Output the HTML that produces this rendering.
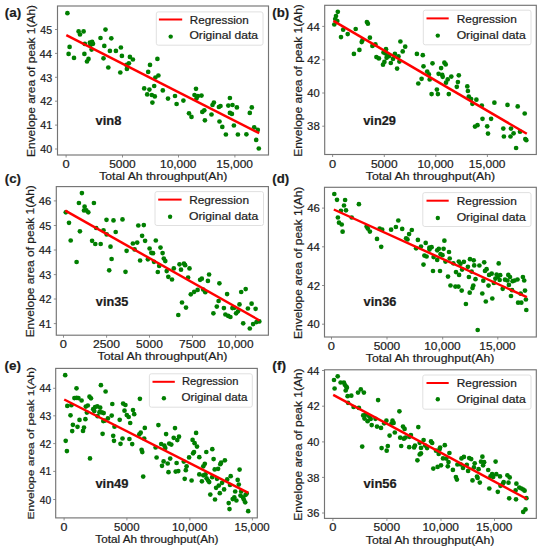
<!DOCTYPE html>
<html><head><meta charset="utf-8"><style>
html,body{margin:0;padding:0;background:#fff;overflow:hidden;}
svg{display:block;}
text{font-family:"Liberation Sans", sans-serif;stroke:#1c1c1c;stroke-width:0.2px;paint-order:stroke;}
</style></head><body>
<svg width="541" height="550" viewBox="0 0 541 550">
<rect width="541" height="550" fill="#fff"/>
<g fill="#007f00"><circle cx="67.4" cy="13.2" r="2.35"/><circle cx="78.6" cy="31.4" r="2.35"/><circle cx="83.6" cy="31.4" r="2.35"/><circle cx="80.0" cy="34.5" r="2.35"/><circle cx="105.5" cy="29.6" r="2.35"/><circle cx="100.5" cy="38.0" r="2.35"/><circle cx="111.3" cy="38.3" r="2.35"/><circle cx="69.6" cy="46.9" r="2.35"/><circle cx="68.6" cy="53.9" r="2.35"/><circle cx="74.0" cy="57.9" r="2.35"/><circle cx="84.4" cy="53.9" r="2.35"/><circle cx="84.8" cy="43.9" r="2.35"/><circle cx="89.9" cy="42.7" r="2.35"/><circle cx="92.1" cy="41.8" r="2.35"/><circle cx="93.0" cy="43.8" r="2.35"/><circle cx="90.5" cy="45.0" r="2.35"/><circle cx="91.6" cy="49.6" r="2.35"/><circle cx="104.3" cy="45.9" r="2.35"/><circle cx="109.9" cy="50.9" r="2.35"/><circle cx="115.9" cy="50.9" r="2.35"/><circle cx="120.9" cy="47.5" r="2.35"/><circle cx="103.5" cy="58.3" r="2.35"/><circle cx="88.5" cy="58.9" r="2.35"/><circle cx="87.0" cy="61.5" r="2.35"/><circle cx="108.3" cy="67.5" r="2.35"/><circle cx="121.9" cy="55.9" r="2.35"/><circle cx="129.9" cy="56.9" r="2.35"/><circle cx="132.9" cy="59.5" r="2.35"/><circle cx="128.9" cy="63.3" r="2.35"/><circle cx="126.5" cy="64.9" r="2.35"/><circle cx="126.9" cy="68.9" r="2.35"/><circle cx="120.3" cy="72.5" r="2.35"/><circle cx="148.2" cy="71.9" r="2.35"/><circle cx="150.0" cy="64.9" r="2.35"/><circle cx="157.4" cy="58.9" r="2.35"/><circle cx="158.4" cy="75.5" r="2.35"/><circle cx="155.4" cy="77.5" r="2.35"/><circle cx="144.2" cy="88.4" r="2.35"/><circle cx="149.4" cy="89.6" r="2.35"/><circle cx="154.2" cy="86.0" r="2.35"/><circle cx="147.2" cy="94.4" r="2.35"/><circle cx="151.8" cy="95.0" r="2.35"/><circle cx="154.8" cy="96.4" r="2.35"/><circle cx="152.4" cy="102.6" r="2.35"/><circle cx="162.8" cy="90.4" r="2.35"/><circle cx="168.0" cy="98.6" r="2.35"/><circle cx="175.0" cy="96.0" r="2.35"/><circle cx="176.6" cy="104.0" r="2.35"/><circle cx="183.4" cy="100.6" r="2.35"/><circle cx="196.0" cy="88.8" r="2.35"/><circle cx="194.5" cy="95.0" r="2.35"/><circle cx="197.9" cy="96.0" r="2.35"/><circle cx="201.5" cy="95.6" r="2.35"/><circle cx="196.5" cy="98.4" r="2.35"/><circle cx="189.0" cy="113.3" r="2.35"/><circle cx="191.5" cy="116.9" r="2.35"/><circle cx="202.3" cy="111.9" r="2.35"/><circle cx="204.3" cy="110.3" r="2.35"/><circle cx="204.9" cy="120.3" r="2.35"/><circle cx="211.5" cy="114.5" r="2.35"/><circle cx="212.5" cy="105.0" r="2.35"/><circle cx="213.9" cy="102.6" r="2.35"/><circle cx="218.9" cy="107.0" r="2.35"/><circle cx="220.5" cy="106.0" r="2.35"/><circle cx="219.5" cy="121.5" r="2.35"/><circle cx="222.3" cy="126.9" r="2.35"/><circle cx="225.9" cy="134.5" r="2.35"/><circle cx="229.9" cy="98.0" r="2.35"/><circle cx="228.3" cy="105.6" r="2.35"/><circle cx="232.5" cy="105.0" r="2.35"/><circle cx="236.9" cy="107.4" r="2.35"/><circle cx="229.9" cy="112.9" r="2.35"/><circle cx="231.9" cy="113.9" r="2.35"/><circle cx="233.9" cy="125.5" r="2.35"/><circle cx="237.9" cy="134.5" r="2.35"/><circle cx="246.4" cy="134.3" r="2.35"/><circle cx="251.8" cy="107.4" r="2.35"/><circle cx="249.8" cy="112.9" r="2.35"/><circle cx="254.2" cy="127.3" r="2.35"/><circle cx="257.8" cy="129.9" r="2.35"/><circle cx="256.2" cy="139.9" r="2.35"/><circle cx="258.8" cy="148.5" r="2.35"/></g>
<line x1="66.3" y1="35.1" x2="259.2" y2="133.2" stroke="#ff0000" stroke-width="2.45" stroke-linecap="butt"/>
<rect x="57.5" y="6" width="211.0" height="149" fill="none" stroke="#747474" stroke-width="1.15"/>
<line x1="66.1" y1="155" x2="66.1" y2="157.5" stroke="#747474" stroke-width="0.8"/>
<text x="62.48" y="167.70" font-size="10.5" font-weight="normal" textLength="7.18" lengthAdjust="spacingAndGlyphs" fill="#1c1c1c">0</text>
<line x1="122.5" y1="155" x2="122.5" y2="157.5" stroke="#747474" stroke-width="0.8"/>
<text x="109.17" y="167.70" font-size="10.5" font-weight="normal" textLength="26.59" lengthAdjust="spacingAndGlyphs" fill="#1c1c1c">5000</text>
<line x1="178.5" y1="155" x2="178.5" y2="157.5" stroke="#747474" stroke-width="0.8"/>
<text x="160.11" y="167.70" font-size="10.5" font-weight="normal" textLength="36.29" lengthAdjust="spacingAndGlyphs" fill="#1c1c1c">10,000</text>
<line x1="234.9" y1="155" x2="234.9" y2="157.5" stroke="#747474" stroke-width="0.8"/>
<text x="216.35" y="167.70" font-size="10.5" font-weight="normal" textLength="36.60" lengthAdjust="spacingAndGlyphs" fill="#1c1c1c">15,000</text>
<line x1="55.0" y1="29.5" x2="57.5" y2="29.5" stroke="#747474" stroke-width="0.8"/>
<text x="40.39" y="33.70" font-size="10.5" font-weight="normal" textLength="11.76" lengthAdjust="spacingAndGlyphs" fill="#1c1c1c">45</text>
<line x1="55.0" y1="53.4" x2="57.5" y2="53.4" stroke="#747474" stroke-width="0.8"/>
<text x="39.47" y="57.60" font-size="10.5" font-weight="normal" textLength="12.59" lengthAdjust="spacingAndGlyphs" fill="#1c1c1c">44</text>
<line x1="55.0" y1="77.3" x2="57.5" y2="77.3" stroke="#747474" stroke-width="0.8"/>
<text x="40.18" y="81.50" font-size="10.5" font-weight="normal" textLength="11.97" lengthAdjust="spacingAndGlyphs" fill="#1c1c1c">43</text>
<line x1="55.0" y1="101.2" x2="57.5" y2="101.2" stroke="#747474" stroke-width="0.8"/>
<text x="40.18" y="105.40" font-size="10.5" font-weight="normal" textLength="12.09" lengthAdjust="spacingAndGlyphs" fill="#1c1c1c">42</text>
<line x1="55.0" y1="125.1" x2="57.5" y2="125.1" stroke="#747474" stroke-width="0.8"/>
<text x="40.18" y="129.30" font-size="10.5" font-weight="normal" textLength="12.03" lengthAdjust="spacingAndGlyphs" fill="#1c1c1c">41</text>
<line x1="55.0" y1="149.0" x2="57.5" y2="149.0" stroke="#747474" stroke-width="0.8"/>
<text x="40.19" y="153.20" font-size="10.5" font-weight="normal" textLength="11.91" lengthAdjust="spacingAndGlyphs" fill="#1c1c1c">40</text>
<text x="99.16" y="179.60" font-size="10.7" font-weight="normal" textLength="128.20" lengthAdjust="spacingAndGlyphs" fill="#1c1c1c">Total Ah throughput(Ah)</text>
<text x="-0.96" y="0" transform="translate(34.70,156.00) rotate(-90)" font-size="10.271999999999998" textLength="151.98" lengthAdjust="spacingAndGlyphs" fill="#1c1c1c">Envelope area of peak 1(Ah)</text>
<text x="4.83" y="17.00" font-size="12.75" font-weight="bold" textLength="16.41" lengthAdjust="spacingAndGlyphs" fill="#1c1c1c">(a)</text>
<text x="95.54" y="124.90" font-size="12.4" font-weight="bold" textLength="25.87" lengthAdjust="spacingAndGlyphs" fill="#1c1c1c">vin8</text>
<rect x="156.3" y="11.9" width="106.69999999999999" height="33.300000000000004" rx="2" ry="2" fill="#ffffff" fill-opacity="0.8" stroke="#dcdcdc" stroke-width="0.9"/>
<line x1="158.9" y1="19.5" x2="182.2" y2="19.5" stroke="#ff0000" stroke-width="2.0"/>
<text x="189.87" y="23.50" font-size="10.5" font-weight="normal" textLength="58.93" lengthAdjust="spacingAndGlyphs" fill="#1c1c1c">Regression</text>
<circle cx="170.7" cy="36.6" r="2.2" fill="#007f00"/>
<text x="189.46" y="39.30" font-size="10.5" font-weight="normal" textLength="68.54" lengthAdjust="spacingAndGlyphs" fill="#1c1c1c">Original data</text>
<g fill="#007f00"><circle cx="337.8" cy="11.8" r="2.35"/><circle cx="336.0" cy="16.0" r="2.35"/><circle cx="335.2" cy="19.0" r="2.35"/><circle cx="337.3" cy="21.0" r="2.35"/><circle cx="334.3" cy="24.5" r="2.35"/><circle cx="343.2" cy="29.7" r="2.35"/><circle cx="341.0" cy="37.1" r="2.35"/><circle cx="347.7" cy="34.1" r="2.35"/><circle cx="355.7" cy="29.0" r="2.35"/><circle cx="366.9" cy="22.0" r="2.35"/><circle cx="367.9" cy="23.7" r="2.35"/><circle cx="369.9" cy="37.7" r="2.35"/><circle cx="362.4" cy="40.4" r="2.35"/><circle cx="361.7" cy="42.1" r="2.35"/><circle cx="359.4" cy="49.9" r="2.35"/><circle cx="353.9" cy="53.9" r="2.35"/><circle cx="372.4" cy="45.9" r="2.35"/><circle cx="375.4" cy="44.4" r="2.35"/><circle cx="376.4" cy="57.1" r="2.35"/><circle cx="378.9" cy="58.4" r="2.35"/><circle cx="386.0" cy="49.2" r="2.35"/><circle cx="383.5" cy="52.5" r="2.35"/><circle cx="385.5" cy="53.5" r="2.35"/><circle cx="387.2" cy="56.6" r="2.35"/><circle cx="389.1" cy="56.1" r="2.35"/><circle cx="386.6" cy="57.8" r="2.35"/><circle cx="384.4" cy="61.9" r="2.35"/><circle cx="383.0" cy="64.7" r="2.35"/><circle cx="390.8" cy="63.0" r="2.35"/><circle cx="393.0" cy="58.9" r="2.35"/><circle cx="394.9" cy="53.9" r="2.35"/><circle cx="398.5" cy="56.4" r="2.35"/><circle cx="399.4" cy="61.6" r="2.35"/><circle cx="397.1" cy="68.6" r="2.35"/><circle cx="402.7" cy="51.4" r="2.35"/><circle cx="405.2" cy="46.7" r="2.35"/><circle cx="400.4" cy="41.5" r="2.35"/><circle cx="416.9" cy="53.9" r="2.35"/><circle cx="422.8" cy="55.2" r="2.35"/><circle cx="423.5" cy="66.3" r="2.35"/><circle cx="432.5" cy="63.3" r="2.35"/><circle cx="444.4" cy="62.7" r="2.35"/><circle cx="445.7" cy="64.4" r="2.35"/><circle cx="441.1" cy="68.1" r="2.35"/><circle cx="427.2" cy="71.6" r="2.35"/><circle cx="428.9" cy="74.4" r="2.35"/><circle cx="421.6" cy="78.8" r="2.35"/><circle cx="418.3" cy="83.5" r="2.35"/><circle cx="429.7" cy="79.4" r="2.35"/><circle cx="438.6" cy="73.8" r="2.35"/><circle cx="442.2" cy="74.9" r="2.35"/><circle cx="442.7" cy="76.8" r="2.35"/><circle cx="451.3" cy="76.6" r="2.35"/><circle cx="447.7" cy="79.4" r="2.35"/><circle cx="446.0" cy="82.7" r="2.35"/><circle cx="458.8" cy="75.3" r="2.35"/><circle cx="457.9" cy="82.1" r="2.35"/><circle cx="456.8" cy="86.8" r="2.35"/><circle cx="436.9" cy="89.6" r="2.35"/><circle cx="437.9" cy="94.1" r="2.35"/><circle cx="431.6" cy="94.1" r="2.35"/><circle cx="448.8" cy="94.1" r="2.35"/><circle cx="467.3" cy="86.4" r="2.35"/><circle cx="467.9" cy="91.0" r="2.35"/><circle cx="468.8" cy="96.6" r="2.35"/><circle cx="471.1" cy="99.1" r="2.35"/><circle cx="476.4" cy="99.7" r="2.35"/><circle cx="472.4" cy="103.8" r="2.35"/><circle cx="481.8" cy="105.5" r="2.35"/><circle cx="494.4" cy="102.7" r="2.35"/><circle cx="507.5" cy="104.9" r="2.35"/><circle cx="517.7" cy="106.4" r="2.35"/><circle cx="482.5" cy="118.8" r="2.35"/><circle cx="491.1" cy="118.8" r="2.35"/><circle cx="475.0" cy="126.6" r="2.35"/><circle cx="477.5" cy="125.2" r="2.35"/><circle cx="487.2" cy="126.3" r="2.35"/><circle cx="503.3" cy="128.6" r="2.35"/><circle cx="511.0" cy="128.6" r="2.35"/><circle cx="524.7" cy="113.5" r="2.35"/><circle cx="488.0" cy="133.6" r="2.35"/><circle cx="513.6" cy="133.3" r="2.35"/><circle cx="520.0" cy="131.7" r="2.35"/><circle cx="503.9" cy="136.5" r="2.35"/><circle cx="510.5" cy="136.5" r="2.35"/><circle cx="525.3" cy="139.0" r="2.35"/><circle cx="526.3" cy="140.2" r="2.35"/><circle cx="516.1" cy="148.0" r="2.35"/></g>
<line x1="333.4" y1="20.9" x2="526.8" y2="133.8" stroke="#ff0000" stroke-width="2.45" stroke-linecap="butt"/>
<rect x="324.7" y="5.3" width="211.59999999999997" height="149.2" fill="none" stroke="#747474" stroke-width="1.15"/>
<line x1="332.6" y1="154.5" x2="332.6" y2="157.0" stroke="#747474" stroke-width="0.8"/>
<text x="328.98" y="167.70" font-size="10.5" font-weight="normal" textLength="7.18" lengthAdjust="spacingAndGlyphs" fill="#1c1c1c">0</text>
<line x1="384.3" y1="154.5" x2="384.3" y2="157.0" stroke="#747474" stroke-width="0.8"/>
<text x="370.97" y="167.70" font-size="10.5" font-weight="normal" textLength="26.59" lengthAdjust="spacingAndGlyphs" fill="#1c1c1c">5000</text>
<line x1="435.8" y1="154.5" x2="435.8" y2="157.0" stroke="#747474" stroke-width="0.8"/>
<text x="417.41" y="167.70" font-size="10.5" font-weight="normal" textLength="36.29" lengthAdjust="spacingAndGlyphs" fill="#1c1c1c">10,000</text>
<line x1="487.4" y1="154.5" x2="487.4" y2="157.0" stroke="#747474" stroke-width="0.8"/>
<text x="468.85" y="167.70" font-size="10.5" font-weight="normal" textLength="36.60" lengthAdjust="spacingAndGlyphs" fill="#1c1c1c">15,000</text>
<line x1="322.2" y1="26.4" x2="324.7" y2="26.4" stroke="#747474" stroke-width="0.8"/>
<text x="307.07" y="30.60" font-size="10.5" font-weight="normal" textLength="12.70" lengthAdjust="spacingAndGlyphs" fill="#1c1c1c">44</text>
<line x1="322.2" y1="59.8" x2="324.7" y2="59.8" stroke="#747474" stroke-width="0.8"/>
<text x="307.37" y="64.00" font-size="10.5" font-weight="normal" textLength="12.62" lengthAdjust="spacingAndGlyphs" fill="#1c1c1c">42</text>
<line x1="322.2" y1="93.0" x2="324.7" y2="93.0" stroke="#747474" stroke-width="0.8"/>
<text x="307.38" y="97.20" font-size="10.5" font-weight="normal" textLength="12.44" lengthAdjust="spacingAndGlyphs" fill="#1c1c1c">40</text>
<line x1="322.2" y1="126.2" x2="324.7" y2="126.2" stroke="#747474" stroke-width="0.8"/>
<text x="307.14" y="130.40" font-size="10.5" font-weight="normal" textLength="12.74" lengthAdjust="spacingAndGlyphs" fill="#1c1c1c">38</text>
<text x="365.85" y="179.50" font-size="10.7" font-weight="normal" textLength="129.31" lengthAdjust="spacingAndGlyphs" fill="#1c1c1c">Total Ah throughput(Ah)</text>
<text x="-0.96" y="0" transform="translate(302.00,155.90) rotate(-90)" font-size="10.271999999999998" textLength="152.69" lengthAdjust="spacingAndGlyphs" fill="#1c1c1c">Envelope area of peak 1(Ah)</text>
<text x="272.34" y="17.00" font-size="12.75" font-weight="bold" textLength="16.88" lengthAdjust="spacingAndGlyphs" fill="#1c1c1c">(b)</text>
<text x="363.24" y="125.00" font-size="12.4" font-weight="bold" textLength="32.74" lengthAdjust="spacingAndGlyphs" fill="#1c1c1c">vin29</text>
<rect x="423.3" y="10.2" width="107.69999999999999" height="34.599999999999994" rx="2" ry="2" fill="#ffffff" fill-opacity="0.8" stroke="#dcdcdc" stroke-width="0.9"/>
<line x1="426.5" y1="18.4" x2="448.7" y2="18.4" stroke="#ff0000" stroke-width="2.0"/>
<text x="456.75" y="22.60" font-size="10.5" font-weight="normal" textLength="60.06" lengthAdjust="spacingAndGlyphs" fill="#1c1c1c">Regression</text>
<circle cx="437.8" cy="35.6" r="2.2" fill="#007f00"/>
<text x="456.65" y="38.50" font-size="10.5" font-weight="normal" textLength="69.05" lengthAdjust="spacingAndGlyphs" fill="#1c1c1c">Original data</text>
<g fill="#007f00"><circle cx="81.9" cy="193.1" r="2.35"/><circle cx="78.9" cy="203.0" r="2.35"/><circle cx="93.9" cy="203.0" r="2.35"/><circle cx="84.6" cy="206.7" r="2.35"/><circle cx="84.0" cy="210.5" r="2.35"/><circle cx="86.3" cy="210.3" r="2.35"/><circle cx="88.3" cy="212.3" r="2.35"/><circle cx="65.8" cy="212.3" r="2.35"/><circle cx="69.0" cy="222.8" r="2.35"/><circle cx="79.9" cy="231.3" r="2.35"/><circle cx="70.7" cy="240.5" r="2.35"/><circle cx="96.2" cy="228.0" r="2.35"/><circle cx="92.1" cy="240.8" r="2.35"/><circle cx="95.3" cy="244.0" r="2.35"/><circle cx="100.7" cy="244.0" r="2.35"/><circle cx="103.5" cy="230.3" r="2.35"/><circle cx="106.7" cy="234.4" r="2.35"/><circle cx="106.5" cy="219.8" r="2.35"/><circle cx="113.5" cy="220.4" r="2.35"/><circle cx="122.5" cy="219.4" r="2.35"/><circle cx="115.7" cy="232.0" r="2.35"/><circle cx="110.5" cy="246.7" r="2.35"/><circle cx="126.6" cy="250.8" r="2.35"/><circle cx="111.6" cy="259.0" r="2.35"/><circle cx="76.6" cy="262.0" r="2.35"/><circle cx="138.3" cy="225.5" r="2.35"/><circle cx="143.8" cy="225.1" r="2.35"/><circle cx="142.1" cy="235.8" r="2.35"/><circle cx="145.1" cy="240.8" r="2.35"/><circle cx="137.2" cy="242.6" r="2.35"/><circle cx="132.9" cy="243.5" r="2.35"/><circle cx="134.6" cy="249.4" r="2.35"/><circle cx="155.8" cy="240.5" r="2.35"/><circle cx="149.6" cy="248.5" r="2.35"/><circle cx="151.3" cy="252.8" r="2.35"/><circle cx="153.0" cy="253.2" r="2.35"/><circle cx="160.5" cy="247.6" r="2.35"/><circle cx="162.6" cy="253.1" r="2.35"/><circle cx="163.8" cy="258.5" r="2.35"/><circle cx="140.1" cy="260.5" r="2.35"/><circle cx="147.9" cy="259.3" r="2.35"/><circle cx="109.2" cy="270.3" r="2.35"/><circle cx="125.5" cy="271.8" r="2.35"/><circle cx="154.0" cy="261.8" r="2.35"/><circle cx="159.2" cy="265.9" r="2.35"/><circle cx="157.8" cy="272.0" r="2.35"/><circle cx="165.3" cy="261.1" r="2.35"/><circle cx="166.7" cy="271.1" r="2.35"/><circle cx="168.3" cy="276.8" r="2.35"/><circle cx="172.0" cy="279.5" r="2.35"/><circle cx="173.8" cy="268.4" r="2.35"/><circle cx="179.5" cy="264.3" r="2.35"/><circle cx="184.0" cy="263.5" r="2.35"/><circle cx="185.1" cy="265.2" r="2.35"/><circle cx="181.0" cy="269.7" r="2.35"/><circle cx="189.5" cy="268.4" r="2.35"/><circle cx="188.1" cy="277.5" r="2.35"/><circle cx="190.8" cy="294.3" r="2.35"/><circle cx="194.2" cy="291.8" r="2.35"/><circle cx="182.0" cy="302.5" r="2.35"/><circle cx="186.0" cy="307.6" r="2.35"/><circle cx="178.3" cy="315.0" r="2.35"/><circle cx="209.1" cy="274.5" r="2.35"/><circle cx="200.1" cy="279.8" r="2.35"/><circle cx="201.8" cy="278.7" r="2.35"/><circle cx="207.9" cy="280.9" r="2.35"/><circle cx="219.4" cy="283.3" r="2.35"/><circle cx="197.6" cy="289.9" r="2.35"/><circle cx="205.3" cy="292.2" r="2.35"/><circle cx="203.2" cy="289.6" r="2.35"/><circle cx="227.1" cy="294.1" r="2.35"/><circle cx="241.2" cy="292.0" r="2.35"/><circle cx="245.7" cy="289.1" r="2.35"/><circle cx="218.6" cy="301.0" r="2.35"/><circle cx="216.8" cy="306.6" r="2.35"/><circle cx="213.4" cy="313.3" r="2.35"/><circle cx="223.9" cy="308.1" r="2.35"/><circle cx="225.4" cy="314.5" r="2.35"/><circle cx="228.2" cy="315.9" r="2.35"/><circle cx="230.4" cy="317.0" r="2.35"/><circle cx="232.4" cy="308.1" r="2.35"/><circle cx="234.3" cy="307.8" r="2.35"/><circle cx="239.5" cy="304.4" r="2.35"/><circle cx="236.1" cy="313.3" r="2.35"/><circle cx="238.0" cy="311.3" r="2.35"/><circle cx="247.9" cy="308.5" r="2.35"/><circle cx="251.6" cy="303.7" r="2.35"/><circle cx="255.6" cy="308.8" r="2.35"/><circle cx="243.2" cy="323.3" r="2.35"/><circle cx="249.8" cy="328.5" r="2.35"/><circle cx="253.1" cy="324.1" r="2.35"/><circle cx="256.5" cy="322.1" r="2.35"/><circle cx="259.3" cy="321.4" r="2.35"/></g>
<line x1="65.3" y1="210.6" x2="259.6" y2="320.5" stroke="#ff0000" stroke-width="2.45" stroke-linecap="butt"/>
<rect x="56.3" y="186.6" width="212.09999999999997" height="148.6" fill="none" stroke="#747474" stroke-width="1.15"/>
<line x1="63.5" y1="335.2" x2="63.5" y2="337.7" stroke="#747474" stroke-width="0.8"/>
<text x="59.88" y="348.40" font-size="10.5" font-weight="normal" textLength="7.18" lengthAdjust="spacingAndGlyphs" fill="#1c1c1c">0</text>
<line x1="106.6" y1="335.2" x2="106.6" y2="337.7" stroke="#747474" stroke-width="0.8"/>
<text x="93.04" y="348.40" font-size="10.5" font-weight="normal" textLength="26.92" lengthAdjust="spacingAndGlyphs" fill="#1c1c1c">2500</text>
<line x1="149.5" y1="335.2" x2="149.5" y2="337.7" stroke="#747474" stroke-width="0.8"/>
<text x="136.12" y="348.40" font-size="10.5" font-weight="normal" textLength="26.70" lengthAdjust="spacingAndGlyphs" fill="#1c1c1c">5000</text>
<line x1="192.5" y1="335.2" x2="192.5" y2="337.7" stroke="#747474" stroke-width="0.8"/>
<text x="179.00" y="348.40" font-size="10.5" font-weight="normal" textLength="26.82" lengthAdjust="spacingAndGlyphs" fill="#1c1c1c">7500</text>
<line x1="235.6" y1="335.2" x2="235.6" y2="337.7" stroke="#747474" stroke-width="0.8"/>
<text x="217.21" y="348.40" font-size="10.5" font-weight="normal" textLength="36.29" lengthAdjust="spacingAndGlyphs" fill="#1c1c1c">10,000</text>
<line x1="53.8" y1="200.9" x2="56.3" y2="200.9" stroke="#747474" stroke-width="0.8"/>
<text x="38.88" y="205.10" font-size="10.5" font-weight="normal" textLength="12.50" lengthAdjust="spacingAndGlyphs" fill="#1c1c1c">46</text>
<line x1="53.8" y1="225.5" x2="56.3" y2="225.5" stroke="#747474" stroke-width="0.8"/>
<text x="39.38" y="229.70" font-size="10.5" font-weight="normal" textLength="11.97" lengthAdjust="spacingAndGlyphs" fill="#1c1c1c">45</text>
<line x1="53.8" y1="250.0" x2="56.3" y2="250.0" stroke="#747474" stroke-width="0.8"/>
<text x="38.67" y="254.20" font-size="10.5" font-weight="normal" textLength="12.59" lengthAdjust="spacingAndGlyphs" fill="#1c1c1c">44</text>
<line x1="53.8" y1="274.6" x2="56.3" y2="274.6" stroke="#747474" stroke-width="0.8"/>
<text x="39.38" y="278.80" font-size="10.5" font-weight="normal" textLength="11.97" lengthAdjust="spacingAndGlyphs" fill="#1c1c1c">43</text>
<line x1="53.8" y1="299.0" x2="56.3" y2="299.0" stroke="#747474" stroke-width="0.8"/>
<text x="39.38" y="303.20" font-size="10.5" font-weight="normal" textLength="12.09" lengthAdjust="spacingAndGlyphs" fill="#1c1c1c">42</text>
<line x1="53.8" y1="323.6" x2="56.3" y2="323.6" stroke="#747474" stroke-width="0.8"/>
<text x="39.08" y="327.80" font-size="10.5" font-weight="normal" textLength="12.35" lengthAdjust="spacingAndGlyphs" fill="#1c1c1c">41</text>
<text x="97.55" y="360.00" font-size="10.7" font-weight="normal" textLength="129.92" lengthAdjust="spacingAndGlyphs" fill="#1c1c1c">Total Ah throughput(Ah)</text>
<text x="-0.96" y="0" transform="translate(33.90,336.40) rotate(-90)" font-size="10.271999999999998" textLength="152.18" lengthAdjust="spacingAndGlyphs" fill="#1c1c1c">Envelope area of peak 1(Ah)</text>
<text x="4.84" y="183.20" font-size="12.75" font-weight="bold" textLength="16.19" lengthAdjust="spacingAndGlyphs" fill="#1c1c1c">(c)</text>
<text x="95.84" y="306.40" font-size="12.4" font-weight="bold" textLength="32.51" lengthAdjust="spacingAndGlyphs" fill="#1c1c1c">vin35</text>
<rect x="155" y="191.6" width="108.5" height="33.900000000000006" rx="2" ry="2" fill="#ffffff" fill-opacity="0.8" stroke="#dcdcdc" stroke-width="0.9"/>
<line x1="158.2" y1="199.6" x2="181.6" y2="199.6" stroke="#ff0000" stroke-width="2.0"/>
<text x="189.15" y="203.70" font-size="10.5" font-weight="normal" textLength="59.85" lengthAdjust="spacingAndGlyphs" fill="#1c1c1c">Regression</text>
<circle cx="170.1" cy="216.7" r="2.2" fill="#007f00"/>
<text x="189.05" y="219.60" font-size="10.5" font-weight="normal" textLength="69.15" lengthAdjust="spacingAndGlyphs" fill="#1c1c1c">Original data</text>
<g fill="#007f00"><circle cx="334.3" cy="194.0" r="2.35"/><circle cx="337.0" cy="199.8" r="2.35"/><circle cx="345.1" cy="200.0" r="2.35"/><circle cx="344.0" cy="205.5" r="2.35"/><circle cx="346.0" cy="210.3" r="2.35"/><circle cx="340.9" cy="210.8" r="2.35"/><circle cx="358.9" cy="204.2" r="2.35"/><circle cx="337.9" cy="217.5" r="2.35"/><circle cx="339.0" cy="222.7" r="2.35"/><circle cx="341.7" cy="224.5" r="2.35"/><circle cx="342.6" cy="231.7" r="2.35"/><circle cx="351.7" cy="217.5" r="2.35"/><circle cx="366.6" cy="226.5" r="2.35"/><circle cx="367.8" cy="228.6" r="2.35"/><circle cx="369.9" cy="231.6" r="2.35"/><circle cx="379.6" cy="228.7" r="2.35"/><circle cx="382.2" cy="229.7" r="2.35"/><circle cx="377.0" cy="238.9" r="2.35"/><circle cx="381.2" cy="246.8" r="2.35"/><circle cx="398.3" cy="220.5" r="2.35"/><circle cx="395.9" cy="227.0" r="2.35"/><circle cx="391.1" cy="229.7" r="2.35"/><circle cx="402.2" cy="228.9" r="2.35"/><circle cx="411.8" cy="230.0" r="2.35"/><circle cx="409.1" cy="234.1" r="2.35"/><circle cx="406.1" cy="238.3" r="2.35"/><circle cx="407.5" cy="239.4" r="2.35"/><circle cx="417.9" cy="239.9" r="2.35"/><circle cx="425.7" cy="242.9" r="2.35"/><circle cx="421.0" cy="246.6" r="2.35"/><circle cx="416.1" cy="248.3" r="2.35"/><circle cx="429.4" cy="247.7" r="2.35"/><circle cx="431.6" cy="247.2" r="2.35"/><circle cx="429.5" cy="249.6" r="2.35"/><circle cx="437.2" cy="250.3" r="2.35"/><circle cx="438.8" cy="248.8" r="2.35"/><circle cx="424.4" cy="255.6" r="2.35"/><circle cx="426.6" cy="256.5" r="2.35"/><circle cx="433.6" cy="257.1" r="2.35"/><circle cx="437.2" cy="259.9" r="2.35"/><circle cx="423.5" cy="264.6" r="2.35"/><circle cx="444.4" cy="240.7" r="2.35"/><circle cx="443.6" cy="248.8" r="2.35"/><circle cx="449.0" cy="252.0" r="2.35"/><circle cx="440.5" cy="254.1" r="2.35"/><circle cx="442.5" cy="255.2" r="2.35"/><circle cx="445.5" cy="261.6" r="2.35"/><circle cx="449.7" cy="258.5" r="2.35"/><circle cx="453.3" cy="263.3" r="2.35"/><circle cx="458.8" cy="261.6" r="2.35"/><circle cx="460.5" cy="263.8" r="2.35"/><circle cx="463.9" cy="261.8" r="2.35"/><circle cx="470.0" cy="259.2" r="2.35"/><circle cx="473.7" cy="260.3" r="2.35"/><circle cx="467.9" cy="266.8" r="2.35"/><circle cx="474.2" cy="265.4" r="2.35"/><circle cx="433.0" cy="271.0" r="2.35"/><circle cx="440.0" cy="271.0" r="2.35"/><circle cx="456.0" cy="272.1" r="2.35"/><circle cx="459.1" cy="274.9" r="2.35"/><circle cx="462.1" cy="269.6" r="2.35"/><circle cx="448.0" cy="276.6" r="2.35"/><circle cx="468.9" cy="277.0" r="2.35"/><circle cx="475.5" cy="279.2" r="2.35"/><circle cx="450.5" cy="285.5" r="2.35"/><circle cx="479.4" cy="265.5" r="2.35"/><circle cx="484.2" cy="262.3" r="2.35"/><circle cx="498.7" cy="263.4" r="2.35"/><circle cx="471.6" cy="271.6" r="2.35"/><circle cx="485.0" cy="270.9" r="2.35"/><circle cx="486.6" cy="269.2" r="2.35"/><circle cx="483.3" cy="280.7" r="2.35"/><circle cx="489.1" cy="274.9" r="2.35"/><circle cx="491.7" cy="273.7" r="2.35"/><circle cx="496.6" cy="274.5" r="2.35"/><circle cx="500.2" cy="275.2" r="2.35"/><circle cx="497.8" cy="276.8" r="2.35"/><circle cx="495.4" cy="278.6" r="2.35"/><circle cx="499.7" cy="280.0" r="2.35"/><circle cx="508.3" cy="274.9" r="2.35"/><circle cx="510.0" cy="277.0" r="2.35"/><circle cx="505.0" cy="279.7" r="2.35"/><circle cx="507.4" cy="280.5" r="2.35"/><circle cx="512.6" cy="281.2" r="2.35"/><circle cx="514.6" cy="280.5" r="2.35"/><circle cx="517.5" cy="279.5" r="2.35"/><circle cx="522.9" cy="277.0" r="2.35"/><circle cx="524.2" cy="280.5" r="2.35"/><circle cx="493.9" cy="282.9" r="2.35"/><circle cx="488.5" cy="285.6" r="2.35"/><circle cx="473.3" cy="285.5" r="2.35"/><circle cx="472.5" cy="288.1" r="2.35"/><circle cx="461.7" cy="290.6" r="2.35"/><circle cx="469.7" cy="292.7" r="2.35"/><circle cx="482.3" cy="293.5" r="2.35"/><circle cx="502.7" cy="288.8" r="2.35"/><circle cx="508.9" cy="284.9" r="2.35"/><circle cx="512.1" cy="290.2" r="2.35"/><circle cx="525.0" cy="290.6" r="2.35"/><circle cx="511.0" cy="296.0" r="2.35"/><circle cx="520.7" cy="293.7" r="2.35"/><circle cx="492.3" cy="298.5" r="2.35"/><circle cx="455.4" cy="286.6" r="2.35"/><circle cx="458.4" cy="286.6" r="2.35"/><circle cx="485.8" cy="301.5" r="2.35"/><circle cx="465.9" cy="304.0" r="2.35"/><circle cx="477.7" cy="330.0" r="2.35"/><circle cx="525.9" cy="299.5" r="2.35"/><circle cx="518.1" cy="302.7" r="2.35"/><circle cx="521.3" cy="302.7" r="2.35"/><circle cx="526.3" cy="310.0" r="2.35"/></g>
<line x1="333.8" y1="209.5" x2="526.9" y2="297.2" stroke="#ff0000" stroke-width="2.45" stroke-linecap="butt"/>
<rect x="324.5" y="187.3" width="211.79999999999995" height="149.7" fill="none" stroke="#747474" stroke-width="1.15"/>
<line x1="331.5" y1="337.0" x2="331.5" y2="339.5" stroke="#747474" stroke-width="0.8"/>
<text x="327.88" y="349.70" font-size="10.5" font-weight="normal" textLength="7.18" lengthAdjust="spacingAndGlyphs" fill="#1c1c1c">0</text>
<line x1="387.0" y1="337.0" x2="387.0" y2="339.5" stroke="#747474" stroke-width="0.8"/>
<text x="373.67" y="349.70" font-size="10.5" font-weight="normal" textLength="26.59" lengthAdjust="spacingAndGlyphs" fill="#1c1c1c">5000</text>
<line x1="442.7" y1="337.0" x2="442.7" y2="339.5" stroke="#747474" stroke-width="0.8"/>
<text x="424.26" y="349.70" font-size="10.5" font-weight="normal" textLength="36.39" lengthAdjust="spacingAndGlyphs" fill="#1c1c1c">10,000</text>
<line x1="497.8" y1="337.0" x2="497.8" y2="339.5" stroke="#747474" stroke-width="0.8"/>
<text x="479.36" y="349.70" font-size="10.5" font-weight="normal" textLength="36.39" lengthAdjust="spacingAndGlyphs" fill="#1c1c1c">15,000</text>
<line x1="322.0" y1="208.1" x2="324.5" y2="208.1" stroke="#747474" stroke-width="0.8"/>
<text x="307.17" y="212.30" font-size="10.5" font-weight="normal" textLength="12.71" lengthAdjust="spacingAndGlyphs" fill="#1c1c1c">46</text>
<line x1="322.0" y1="246.8" x2="324.5" y2="246.8" stroke="#747474" stroke-width="0.8"/>
<text x="307.07" y="251.00" font-size="10.5" font-weight="normal" textLength="12.70" lengthAdjust="spacingAndGlyphs" fill="#1c1c1c">44</text>
<line x1="322.0" y1="285.5" x2="324.5" y2="285.5" stroke="#747474" stroke-width="0.8"/>
<text x="307.37" y="289.70" font-size="10.5" font-weight="normal" textLength="12.62" lengthAdjust="spacingAndGlyphs" fill="#1c1c1c">42</text>
<line x1="322.0" y1="324.2" x2="324.5" y2="324.2" stroke="#747474" stroke-width="0.8"/>
<text x="307.38" y="328.40" font-size="10.5" font-weight="normal" textLength="12.44" lengthAdjust="spacingAndGlyphs" fill="#1c1c1c">40</text>
<text x="365.86" y="361.60" font-size="10.7" font-weight="normal" textLength="128.51" lengthAdjust="spacingAndGlyphs" fill="#1c1c1c">Total Ah throughput(Ah)</text>
<text x="-0.96" y="0" transform="translate(302.10,338.00) rotate(-90)" font-size="10.271999999999998" textLength="152.28" lengthAdjust="spacingAndGlyphs" fill="#1c1c1c">Envelope area of peak 1(Ah)</text>
<text x="272.34" y="183.20" font-size="12.75" font-weight="bold" textLength="16.88" lengthAdjust="spacingAndGlyphs" fill="#1c1c1c">(d)</text>
<text x="363.64" y="306.40" font-size="12.4" font-weight="bold" textLength="32.84" lengthAdjust="spacingAndGlyphs" fill="#1c1c1c">vin36</text>
<rect x="422.8" y="192.6" width="108.19999999999999" height="33.900000000000006" rx="2" ry="2" fill="#ffffff" fill-opacity="0.8" stroke="#dcdcdc" stroke-width="0.9"/>
<line x1="426.5" y1="200.7" x2="448.7" y2="200.7" stroke="#ff0000" stroke-width="2.0"/>
<text x="456.75" y="204.70" font-size="10.5" font-weight="normal" textLength="60.06" lengthAdjust="spacingAndGlyphs" fill="#1c1c1c">Regression</text>
<circle cx="437.8" cy="218.0" r="2.2" fill="#007f00"/>
<text x="456.65" y="220.50" font-size="10.5" font-weight="normal" textLength="69.05" lengthAdjust="spacingAndGlyphs" fill="#1c1c1c">Original data</text>
<g fill="#007f00"><circle cx="65.2" cy="375.2" r="2.35"/><circle cx="76.5" cy="388.3" r="2.35"/><circle cx="100.9" cy="385.2" r="2.35"/><circle cx="105.6" cy="391.5" r="2.35"/><circle cx="112.3" cy="404.0" r="2.35"/><circle cx="74.4" cy="398.1" r="2.35"/><circle cx="76.6" cy="397.8" r="2.35"/><circle cx="78.4" cy="398.1" r="2.35"/><circle cx="81.6" cy="400.5" r="2.35"/><circle cx="89.5" cy="396.7" r="2.35"/><circle cx="91.0" cy="398.3" r="2.35"/><circle cx="67.3" cy="405.9" r="2.35"/><circle cx="71.4" cy="405.2" r="2.35"/><circle cx="85.8" cy="406.6" r="2.35"/><circle cx="87.8" cy="405.5" r="2.35"/><circle cx="86.9" cy="412.6" r="2.35"/><circle cx="93.2" cy="409.2" r="2.35"/><circle cx="95.1" cy="407.0" r="2.35"/><circle cx="97.3" cy="406.3" r="2.35"/><circle cx="100.2" cy="407.7" r="2.35"/><circle cx="94.3" cy="411.1" r="2.35"/><circle cx="99.5" cy="412.2" r="2.35"/><circle cx="97.6" cy="416.2" r="2.35"/><circle cx="70.5" cy="415.3" r="2.35"/><circle cx="79.5" cy="419.9" r="2.35"/><circle cx="85.4" cy="419.2" r="2.35"/><circle cx="72.9" cy="424.8" r="2.35"/><circle cx="77.5" cy="426.8" r="2.35"/><circle cx="84.0" cy="427.6" r="2.35"/><circle cx="103.3" cy="421.1" r="2.35"/><circle cx="139.9" cy="398.8" r="2.35"/><circle cx="123.1" cy="403.6" r="2.35"/><circle cx="125.4" cy="405.0" r="2.35"/><circle cx="124.5" cy="410.7" r="2.35"/><circle cx="133.0" cy="410.1" r="2.35"/><circle cx="134.2" cy="414.2" r="2.35"/><circle cx="101.8" cy="412.4" r="2.35"/><circle cx="103.7" cy="413.1" r="2.35"/><circle cx="111.7" cy="415.6" r="2.35"/><circle cx="126.8" cy="415.1" r="2.35"/><circle cx="128.7" cy="417.0" r="2.35"/><circle cx="107.9" cy="418.4" r="2.35"/><circle cx="104.7" cy="420.7" r="2.35"/><circle cx="119.7" cy="419.8" r="2.35"/><circle cx="130.2" cy="423.0" r="2.35"/><circle cx="114.5" cy="426.7" r="2.35"/><circle cx="102.6" cy="433.8" r="2.35"/><circle cx="113.2" cy="435.8" r="2.35"/><circle cx="114.0" cy="440.8" r="2.35"/><circle cx="122.5" cy="438.5" r="2.35"/><circle cx="120.5" cy="443.8" r="2.35"/><circle cx="129.4" cy="439.0" r="2.35"/><circle cx="132.2" cy="444.1" r="2.35"/><circle cx="144.8" cy="427.9" r="2.35"/><circle cx="140.7" cy="432.7" r="2.35"/><circle cx="139.3" cy="434.4" r="2.35"/><circle cx="144.2" cy="438.5" r="2.35"/><circle cx="141.6" cy="449.8" r="2.35"/><circle cx="142.3" cy="452.1" r="2.35"/><circle cx="83.0" cy="430.9" r="2.35"/><circle cx="72.2" cy="431.1" r="2.35"/><circle cx="65.7" cy="440.8" r="2.35"/><circle cx="66.9" cy="451.1" r="2.35"/><circle cx="90.0" cy="458.4" r="2.35"/><circle cx="158.4" cy="425.1" r="2.35"/><circle cx="175.0" cy="428.1" r="2.35"/><circle cx="166.1" cy="434.1" r="2.35"/><circle cx="173.7" cy="437.8" r="2.35"/><circle cx="179.0" cy="436.7" r="2.35"/><circle cx="177.3" cy="440.1" r="2.35"/><circle cx="192.6" cy="439.9" r="2.35"/><circle cx="194.6" cy="443.2" r="2.35"/><circle cx="161.2" cy="444.0" r="2.35"/><circle cx="164.4" cy="445.7" r="2.35"/><circle cx="165.3" cy="448.0" r="2.35"/><circle cx="169.2" cy="443.6" r="2.35"/><circle cx="171.3" cy="444.6" r="2.35"/><circle cx="155.6" cy="447.5" r="2.35"/><circle cx="194.0" cy="452.1" r="2.35"/><circle cx="196.1" cy="432.9" r="2.35"/><circle cx="197.0" cy="446.6" r="2.35"/><circle cx="193.1" cy="453.3" r="2.35"/><circle cx="206.3" cy="452.0" r="2.35"/><circle cx="212.3" cy="449.2" r="2.35"/><circle cx="189.1" cy="457.4" r="2.35"/><circle cx="199.3" cy="457.2" r="2.35"/><circle cx="156.6" cy="457.5" r="2.35"/><circle cx="170.2" cy="458.6" r="2.35"/><circle cx="163.6" cy="461.4" r="2.35"/><circle cx="167.7" cy="463.5" r="2.35"/><circle cx="162.0" cy="465.8" r="2.35"/><circle cx="176.6" cy="463.0" r="2.35"/><circle cx="183.8" cy="461.6" r="2.35"/><circle cx="186.6" cy="466.3" r="2.35"/><circle cx="185.8" cy="470.2" r="2.35"/><circle cx="175.7" cy="471.6" r="2.35"/><circle cx="178.3" cy="471.1" r="2.35"/><circle cx="168.5" cy="472.2" r="2.35"/><circle cx="143.2" cy="476.6" r="2.35"/><circle cx="184.7" cy="478.8" r="2.35"/><circle cx="191.6" cy="480.5" r="2.35"/><circle cx="199.3" cy="474.4" r="2.35"/><circle cx="213.6" cy="459.1" r="2.35"/><circle cx="224.9" cy="460.3" r="2.35"/><circle cx="221.1" cy="462.7" r="2.35"/><circle cx="220.3" cy="464.2" r="2.35"/><circle cx="204.8" cy="463.8" r="2.35"/><circle cx="203.3" cy="466.3" r="2.35"/><circle cx="214.7" cy="469.4" r="2.35"/><circle cx="218.1" cy="468.8" r="2.35"/><circle cx="239.6" cy="469.6" r="2.35"/><circle cx="203.3" cy="475.3" r="2.35"/><circle cx="205.5" cy="474.4" r="2.35"/><circle cx="206.6" cy="478.3" r="2.35"/><circle cx="208.1" cy="480.5" r="2.35"/><circle cx="209.2" cy="482.1" r="2.35"/><circle cx="212.2" cy="477.2" r="2.35"/><circle cx="217.0" cy="478.8" r="2.35"/><circle cx="201.9" cy="481.3" r="2.35"/><circle cx="230.7" cy="476.2" r="2.35"/><circle cx="227.2" cy="479.4" r="2.35"/><circle cx="237.7" cy="479.9" r="2.35"/><circle cx="238.8" cy="484.6" r="2.35"/><circle cx="222.1" cy="482.8" r="2.35"/><circle cx="218.8" cy="485.6" r="2.35"/><circle cx="216.1" cy="487.8" r="2.35"/><circle cx="230.0" cy="485.0" r="2.35"/><circle cx="224.1" cy="489.4" r="2.35"/><circle cx="235.2" cy="491.5" r="2.35"/><circle cx="241.2" cy="491.4" r="2.35"/><circle cx="219.8" cy="493.2" r="2.35"/><circle cx="210.3" cy="494.6" r="2.35"/><circle cx="240.5" cy="495.6" r="2.35"/><circle cx="242.9" cy="497.3" r="2.35"/><circle cx="245.6" cy="494.8" r="2.35"/><circle cx="234.3" cy="497.3" r="2.35"/><circle cx="232.7" cy="499.1" r="2.35"/><circle cx="236.4" cy="500.5" r="2.35"/><circle cx="215.0" cy="499.5" r="2.35"/><circle cx="245.2" cy="502.3" r="2.35"/><circle cx="228.7" cy="503.1" r="2.35"/><circle cx="229.5" cy="509.1" r="2.35"/><circle cx="248.2" cy="511.2" r="2.35"/><circle cx="246.7" cy="493.6" r="2.35"/><circle cx="243.8" cy="499.6" r="2.35"/></g>
<line x1="64.2" y1="399.5" x2="248.4" y2="492.8" stroke="#ff0000" stroke-width="2.45" stroke-linecap="butt"/>
<rect x="55.7" y="368.4" width="201.60000000000002" height="149.5" fill="none" stroke="#747474" stroke-width="1.15"/>
<line x1="64.1" y1="517.9" x2="64.1" y2="520.4" stroke="#747474" stroke-width="0.8"/>
<text x="60.60" y="531.00" font-size="10.1" font-weight="normal" textLength="6.95" lengthAdjust="spacingAndGlyphs" fill="#1c1c1c">0</text>
<line x1="126.9" y1="517.9" x2="126.9" y2="520.4" stroke="#747474" stroke-width="0.8"/>
<text x="114.14" y="531.00" font-size="10.1" font-weight="normal" textLength="25.45" lengthAdjust="spacingAndGlyphs" fill="#1c1c1c">5000</text>
<line x1="189.9" y1="517.9" x2="189.9" y2="520.4" stroke="#747474" stroke-width="0.8"/>
<text x="171.93" y="531.00" font-size="10.1" font-weight="normal" textLength="35.46" lengthAdjust="spacingAndGlyphs" fill="#1c1c1c">10,000</text>
<line x1="252.4" y1="517.9" x2="252.4" y2="520.4" stroke="#747474" stroke-width="0.8"/>
<text x="234.64" y="531.00" font-size="10.1" font-weight="normal" textLength="35.05" lengthAdjust="spacingAndGlyphs" fill="#1c1c1c">15,000</text>
<line x1="53.2" y1="388.3" x2="55.7" y2="388.3" stroke="#747474" stroke-width="0.8"/>
<text x="39.49" y="392.35" font-size="10.1" font-weight="normal" textLength="11.65" lengthAdjust="spacingAndGlyphs" fill="#1c1c1c">44</text>
<line x1="53.2" y1="415.8" x2="55.7" y2="415.8" stroke="#747474" stroke-width="0.8"/>
<text x="39.79" y="419.85" font-size="10.1" font-weight="normal" textLength="11.44" lengthAdjust="spacingAndGlyphs" fill="#1c1c1c">43</text>
<line x1="53.2" y1="443.6" x2="55.7" y2="443.6" stroke="#747474" stroke-width="0.8"/>
<text x="39.79" y="447.65" font-size="10.1" font-weight="normal" textLength="11.55" lengthAdjust="spacingAndGlyphs" fill="#1c1c1c">42</text>
<line x1="53.2" y1="471.4" x2="55.7" y2="471.4" stroke="#747474" stroke-width="0.8"/>
<text x="39.79" y="475.45" font-size="10.1" font-weight="normal" textLength="11.50" lengthAdjust="spacingAndGlyphs" fill="#1c1c1c">41</text>
<line x1="53.2" y1="499.5" x2="55.7" y2="499.5" stroke="#747474" stroke-width="0.8"/>
<text x="39.80" y="503.55" font-size="10.1" font-weight="normal" textLength="11.39" lengthAdjust="spacingAndGlyphs" fill="#1c1c1c">40</text>
<text x="95.27" y="542.70" font-size="10.3" font-weight="normal" textLength="123.16" lengthAdjust="spacingAndGlyphs" fill="#1c1c1c">Total Ah throughput(Ah)</text>
<text x="-0.96" y="0" transform="translate(34.10,518.60) rotate(-90)" font-size="9.888" textLength="152.59" lengthAdjust="spacingAndGlyphs" fill="#1c1c1c">Envelope area of peak 1(Ah)</text>
<text x="4.53" y="369.90" font-size="12.75" font-weight="bold" textLength="16.41" lengthAdjust="spacingAndGlyphs" fill="#1c1c1c">(e)</text>
<text x="95.44" y="488.00" font-size="12.4" font-weight="bold" textLength="33.05" lengthAdjust="spacingAndGlyphs" fill="#1c1c1c">vin49</text>
<rect x="149.4" y="373.8" width="102.9" height="33.39999999999998" rx="2" ry="2" fill="#ffffff" fill-opacity="0.8" stroke="#dcdcdc" stroke-width="0.9"/>
<line x1="152.5" y1="381.8" x2="174.8" y2="381.8" stroke="#ff0000" stroke-width="2.0"/>
<text x="181.91" y="385.40" font-size="10.1" font-weight="normal" textLength="56.56" lengthAdjust="spacingAndGlyphs" fill="#1c1c1c">Regression</text>
<circle cx="163.9" cy="398.3" r="2.2" fill="#007f00"/>
<text x="181.48" y="401.00" font-size="10.1" font-weight="normal" textLength="65.92" lengthAdjust="spacingAndGlyphs" fill="#1c1c1c">Original data</text>
<g fill="#007f00"><circle cx="337.7" cy="376.3" r="2.35"/><circle cx="334.0" cy="380.0" r="2.35"/><circle cx="334.6" cy="388.5" r="2.35"/><circle cx="340.6" cy="382.5" r="2.35"/><circle cx="343.9" cy="382.5" r="2.35"/><circle cx="344.8" cy="384.8" r="2.35"/><circle cx="346.2" cy="386.6" r="2.35"/><circle cx="346.9" cy="387.7" r="2.35"/><circle cx="345.7" cy="390.5" r="2.35"/><circle cx="347.6" cy="396.2" r="2.35"/><circle cx="351.3" cy="395.7" r="2.35"/><circle cx="360.8" cy="389.4" r="2.35"/><circle cx="358.0" cy="392.6" r="2.35"/><circle cx="363.9" cy="392.6" r="2.35"/><circle cx="348.0" cy="402.8" r="2.35"/><circle cx="353.6" cy="407.0" r="2.35"/><circle cx="358.9" cy="407.9" r="2.35"/><circle cx="363.2" cy="415.4" r="2.35"/><circle cx="365.8" cy="414.7" r="2.35"/><circle cx="369.3" cy="416.6" r="2.35"/><circle cx="370.7" cy="418.9" r="2.35"/><circle cx="367.6" cy="421.2" r="2.35"/><circle cx="364.5" cy="418.6" r="2.35"/><circle cx="375.5" cy="418.8" r="2.35"/><circle cx="371.7" cy="425.1" r="2.35"/><circle cx="377.0" cy="426.6" r="2.35"/><circle cx="381.0" cy="427.9" r="2.35"/><circle cx="386.4" cy="420.7" r="2.35"/><circle cx="384.2" cy="423.3" r="2.35"/><circle cx="392.5" cy="420.7" r="2.35"/><circle cx="393.6" cy="422.9" r="2.35"/><circle cx="389.6" cy="435.6" r="2.35"/><circle cx="394.8" cy="432.5" r="2.35"/><circle cx="378.1" cy="400.1" r="2.35"/><circle cx="399.4" cy="411.3" r="2.35"/><circle cx="391.5" cy="423.5" r="2.35"/><circle cx="403.0" cy="426.6" r="2.35"/><circle cx="404.6" cy="428.9" r="2.35"/><circle cx="418.3" cy="427.1" r="2.35"/><circle cx="400.2" cy="437.7" r="2.35"/><circle cx="403.9" cy="438.7" r="2.35"/><circle cx="405.5" cy="437.5" r="2.35"/><circle cx="410.9" cy="435.0" r="2.35"/><circle cx="409.5" cy="436.8" r="2.35"/><circle cx="423.6" cy="440.0" r="2.35"/><circle cx="419.7" cy="442.8" r="2.35"/><circle cx="425.2" cy="445.6" r="2.35"/><circle cx="427.1" cy="448.1" r="2.35"/><circle cx="431.0" cy="441.4" r="2.35"/><circle cx="432.2" cy="443.0" r="2.35"/><circle cx="421.0" cy="447.9" r="2.35"/><circle cx="387.8" cy="446.0" r="2.35"/><circle cx="386.7" cy="450.7" r="2.35"/><circle cx="401.2" cy="446.0" r="2.35"/><circle cx="409.2" cy="447.2" r="2.35"/><circle cx="414.1" cy="447.4" r="2.35"/><circle cx="415.0" cy="445.6" r="2.35"/><circle cx="419.7" cy="454.4" r="2.35"/><circle cx="421.0" cy="453.4" r="2.35"/><circle cx="417.4" cy="460.3" r="2.35"/><circle cx="444.8" cy="445.2" r="2.35"/><circle cx="440.1" cy="447.6" r="2.35"/><circle cx="439.5" cy="449.4" r="2.35"/><circle cx="436.0" cy="450.7" r="2.35"/><circle cx="438.7" cy="453.9" r="2.35"/><circle cx="449.4" cy="453.0" r="2.35"/><circle cx="443.0" cy="458.4" r="2.35"/><circle cx="446.3" cy="458.6" r="2.35"/><circle cx="461.5" cy="458.4" r="2.35"/><circle cx="463.9" cy="456.9" r="2.35"/><circle cx="469.2" cy="458.1" r="2.35"/><circle cx="471.2" cy="459.1" r="2.35"/><circle cx="448.5" cy="462.1" r="2.35"/><circle cx="447.8" cy="466.3" r="2.35"/><circle cx="441.0" cy="465.3" r="2.35"/><circle cx="437.6" cy="466.9" r="2.35"/><circle cx="433.3" cy="468.6" r="2.35"/><circle cx="452.9" cy="469.9" r="2.35"/><circle cx="457.4" cy="464.5" r="2.35"/><circle cx="460.5" cy="464.3" r="2.35"/><circle cx="463.0" cy="467.9" r="2.35"/><circle cx="466.8" cy="464.8" r="2.35"/><circle cx="468.1" cy="470.9" r="2.35"/><circle cx="474.7" cy="463.3" r="2.35"/><circle cx="473.9" cy="467.4" r="2.35"/><circle cx="478.6" cy="469.2" r="2.35"/><circle cx="482.4" cy="456.7" r="2.35"/><circle cx="481.0" cy="461.7" r="2.35"/><circle cx="484.1" cy="462.2" r="2.35"/><circle cx="483.1" cy="465.3" r="2.35"/><circle cx="455.9" cy="477.0" r="2.35"/><circle cx="456.9" cy="479.6" r="2.35"/><circle cx="472.5" cy="480.4" r="2.35"/><circle cx="477.0" cy="476.5" r="2.35"/><circle cx="477.6" cy="478.0" r="2.35"/><circle cx="479.8" cy="482.6" r="2.35"/><circle cx="495.6" cy="461.6" r="2.35"/><circle cx="488.2" cy="470.0" r="2.35"/><circle cx="492.1" cy="474.2" r="2.35"/><circle cx="496.3" cy="474.2" r="2.35"/><circle cx="493.2" cy="476.9" r="2.35"/><circle cx="500.0" cy="476.4" r="2.35"/><circle cx="490.5" cy="476.4" r="2.35"/><circle cx="507.4" cy="475.3" r="2.35"/><circle cx="509.7" cy="477.4" r="2.35"/><circle cx="503.7" cy="482.0" r="2.35"/><circle cx="503.0" cy="483.5" r="2.35"/><circle cx="500.5" cy="485.8" r="2.35"/><circle cx="508.5" cy="482.7" r="2.35"/><circle cx="516.4" cy="483.7" r="2.35"/><circle cx="489.3" cy="488.5" r="2.35"/><circle cx="497.8" cy="491.8" r="2.35"/><circle cx="519.3" cy="487.6" r="2.35"/><circle cx="521.4" cy="488.5" r="2.35"/><circle cx="523.2" cy="489.5" r="2.35"/><circle cx="524.6" cy="490.7" r="2.35"/><circle cx="515.6" cy="490.4" r="2.35"/><circle cx="509.2" cy="498.3" r="2.35"/><circle cx="516.0" cy="499.3" r="2.35"/><circle cx="526.4" cy="498.2" r="2.35"/><circle cx="525.5" cy="509.4" r="2.35"/><circle cx="523.2" cy="511.9" r="2.35"/><circle cx="362.2" cy="446.6" r="2.35"/><circle cx="381.6" cy="448.1" r="2.35"/></g>
<line x1="333.2" y1="394.9" x2="527.0" y2="499.0" stroke="#ff0000" stroke-width="2.45" stroke-linecap="butt"/>
<rect x="324.5" y="369.8" width="211.79999999999995" height="148.59999999999997" fill="none" stroke="#747474" stroke-width="1.15"/>
<line x1="332.9" y1="518.4" x2="332.9" y2="520.9" stroke="#747474" stroke-width="0.8"/>
<text x="329.28" y="531.30" font-size="10.5" font-weight="normal" textLength="7.18" lengthAdjust="spacingAndGlyphs" fill="#1c1c1c">0</text>
<line x1="386.9" y1="518.4" x2="386.9" y2="520.9" stroke="#747474" stroke-width="0.8"/>
<text x="373.57" y="531.30" font-size="10.5" font-weight="normal" textLength="26.59" lengthAdjust="spacingAndGlyphs" fill="#1c1c1c">5000</text>
<line x1="441.0" y1="518.4" x2="441.0" y2="520.9" stroke="#747474" stroke-width="0.8"/>
<text x="422.45" y="531.30" font-size="10.5" font-weight="normal" textLength="36.60" lengthAdjust="spacingAndGlyphs" fill="#1c1c1c">10,000</text>
<line x1="494.5" y1="518.4" x2="494.5" y2="520.9" stroke="#747474" stroke-width="0.8"/>
<text x="476.06" y="531.30" font-size="10.5" font-weight="normal" textLength="36.39" lengthAdjust="spacingAndGlyphs" fill="#1c1c1c">15,000</text>
<line x1="322.0" y1="370.5" x2="324.5" y2="370.5" stroke="#747474" stroke-width="0.8"/>
<text x="307.18" y="374.70" font-size="10.5" font-weight="normal" textLength="12.17" lengthAdjust="spacingAndGlyphs" fill="#1c1c1c">44</text>
<line x1="322.0" y1="406.2" x2="324.5" y2="406.2" stroke="#747474" stroke-width="0.8"/>
<text x="307.28" y="410.40" font-size="10.5" font-weight="normal" textLength="12.30" lengthAdjust="spacingAndGlyphs" fill="#1c1c1c">42</text>
<line x1="322.0" y1="441.9" x2="324.5" y2="441.9" stroke="#747474" stroke-width="0.8"/>
<text x="307.28" y="446.10" font-size="10.5" font-weight="normal" textLength="12.13" lengthAdjust="spacingAndGlyphs" fill="#1c1c1c">40</text>
<line x1="322.0" y1="477.4" x2="324.5" y2="477.4" stroke="#747474" stroke-width="0.8"/>
<text x="307.05" y="481.60" font-size="10.5" font-weight="normal" textLength="12.42" lengthAdjust="spacingAndGlyphs" fill="#1c1c1c">38</text>
<line x1="322.0" y1="513.0" x2="324.5" y2="513.0" stroke="#747474" stroke-width="0.8"/>
<text x="307.05" y="517.20" font-size="10.5" font-weight="normal" textLength="12.42" lengthAdjust="spacingAndGlyphs" fill="#1c1c1c">36</text>
<text x="365.86" y="543.60" font-size="10.7" font-weight="normal" textLength="128.51" lengthAdjust="spacingAndGlyphs" fill="#1c1c1c">Total Ah throughput(Ah)</text>
<text x="-0.96" y="0" transform="translate(301.90,519.80) rotate(-90)" font-size="10.271999999999998" textLength="152.28" lengthAdjust="spacingAndGlyphs" fill="#1c1c1c">Envelope area of peak 1(Ah)</text>
<text x="272.31" y="369.90" font-size="12.75" font-weight="bold" textLength="13.77" lengthAdjust="spacingAndGlyphs" fill="#1c1c1c">(f)</text>
<text x="363.64" y="488.00" font-size="12.4" font-weight="bold" textLength="33.15" lengthAdjust="spacingAndGlyphs" fill="#1c1c1c">vin56</text>
<rect x="422.8" y="375.0" width="108.19999999999999" height="34.19999999999999" rx="2" ry="2" fill="#ffffff" fill-opacity="0.8" stroke="#dcdcdc" stroke-width="0.9"/>
<line x1="426.5" y1="383.0" x2="448.7" y2="383.0" stroke="#ff0000" stroke-width="2.0"/>
<text x="456.75" y="386.70" font-size="10.5" font-weight="normal" textLength="60.06" lengthAdjust="spacingAndGlyphs" fill="#1c1c1c">Regression</text>
<circle cx="437.8" cy="399.2" r="2.2" fill="#007f00"/>
<text x="456.65" y="402.50" font-size="10.5" font-weight="normal" textLength="69.05" lengthAdjust="spacingAndGlyphs" fill="#1c1c1c">Original data</text>
</svg>
</body></html>
